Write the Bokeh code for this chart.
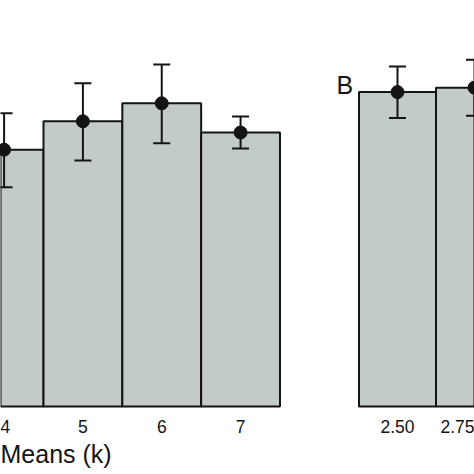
from bokeh.plotting import figure
from bokeh.models import (Range1d, FixedTicker, Whisker, TeeHead, ColumnDataSource,
                          Label, Title)
from bokeh.layouts import row
from bokeh.embed import file_html
from bokeh.resources import INLINE

# Panel A: K-Means (k)
k_values = [4, 5, 6, 7]
k_means = [0.642, 0.713, 0.758, 0.685]
k_upper = [0.733, 0.808, 0.855, 0.725]
k_lower = [0.548, 0.615, 0.658, 0.645]

# Panel B
b_labels = ["2.50", "2.75"]
b_means = [0.786, 0.797]
b_upper = [0.850, 0.867]
b_lower = [0.721, 0.727]

BAR_FILL = "#c3cbc9"
INK = "#141414"
FONT = "Liberation Sans"


def make_fig(width, x_range):
    p = figure(width=width, height=474, x_range=x_range,
               y_range=Range1d(-0.005, 1.015), y_axis_location=None,
               output_backend="svg", toolbar_location=None,
               min_border_left=0, min_border_right=0, min_border_top=0,
               min_border_bottom=66)
    p.xgrid.visible = False
    p.ygrid.visible = False
    p.outline_line_color = None
    ax = p.xaxis[0]
    ax.axis_line_color = None
    ax.major_tick_line_color = None
    ax.minor_tick_line_color = None
    ax.major_tick_out = 0
    ax.major_tick_in = 0
    ax.major_label_standoff = 11
    ax.major_label_text_font = FONT
    ax.major_label_text_font_size = "17.5px"
    ax.major_label_text_color = INK
    return p


def draw(p, xs, means, upper, lower):
    src = ColumnDataSource(dict(x=xs, top=means, upper=upper, lower=lower))
    p.vbar(x="x", top="top", bottom=0, width=1, source=src,
           fill_color=BAR_FILL, line_color=INK, line_width=2)
    w = Whisker(base="x", upper="upper", lower="lower", source=src,
                line_color=INK, line_width=2, level="overlay",
                upper_head=TeeHead(size=17, line_color=INK, line_width=2),
                lower_head=TeeHead(size=17, line_color=INK, line_width=2))
    p.add_layout(w)
    p.scatter(x="x", y="top", source=src, size=13, fill_color=INK,
              line_color=INK, level="overlay")


# Left panel
p1 = make_fig(320, Range1d(3.9545, 8.014))
draw(p1, k_values, k_means, k_upper, k_lower)
p1.xaxis[0].ticker = FixedTicker(ticks=k_values)
p1.add_layout(Title(text="Means (k)", align="left", offset=0, standoff=4,
                    text_font=FONT, text_font_size="25px",
                    text_font_style="normal", text_color=INK), "below")

# Right panel
b_x = list(range(len(b_labels)))
p2 = make_fig(154, Range1d(-1.0, 1.0))
draw(p2, b_x, b_means, b_upper, b_lower)
p2.xaxis[0].ticker = FixedTicker(ticks=b_x)
p2.xaxis[0].major_label_overrides = {i: s for i, s in zip(b_x, b_labels)}
p2.add_layout(Label(x=-0.792, y=0.805, text="B", text_align="left",
                    text_baseline="alphabetic", text_font=FONT,
                    text_font_size="25px", text_color=INK))

layout = row(p1, p2)
open("out.html", "w").write(file_html(layout, INLINE))
